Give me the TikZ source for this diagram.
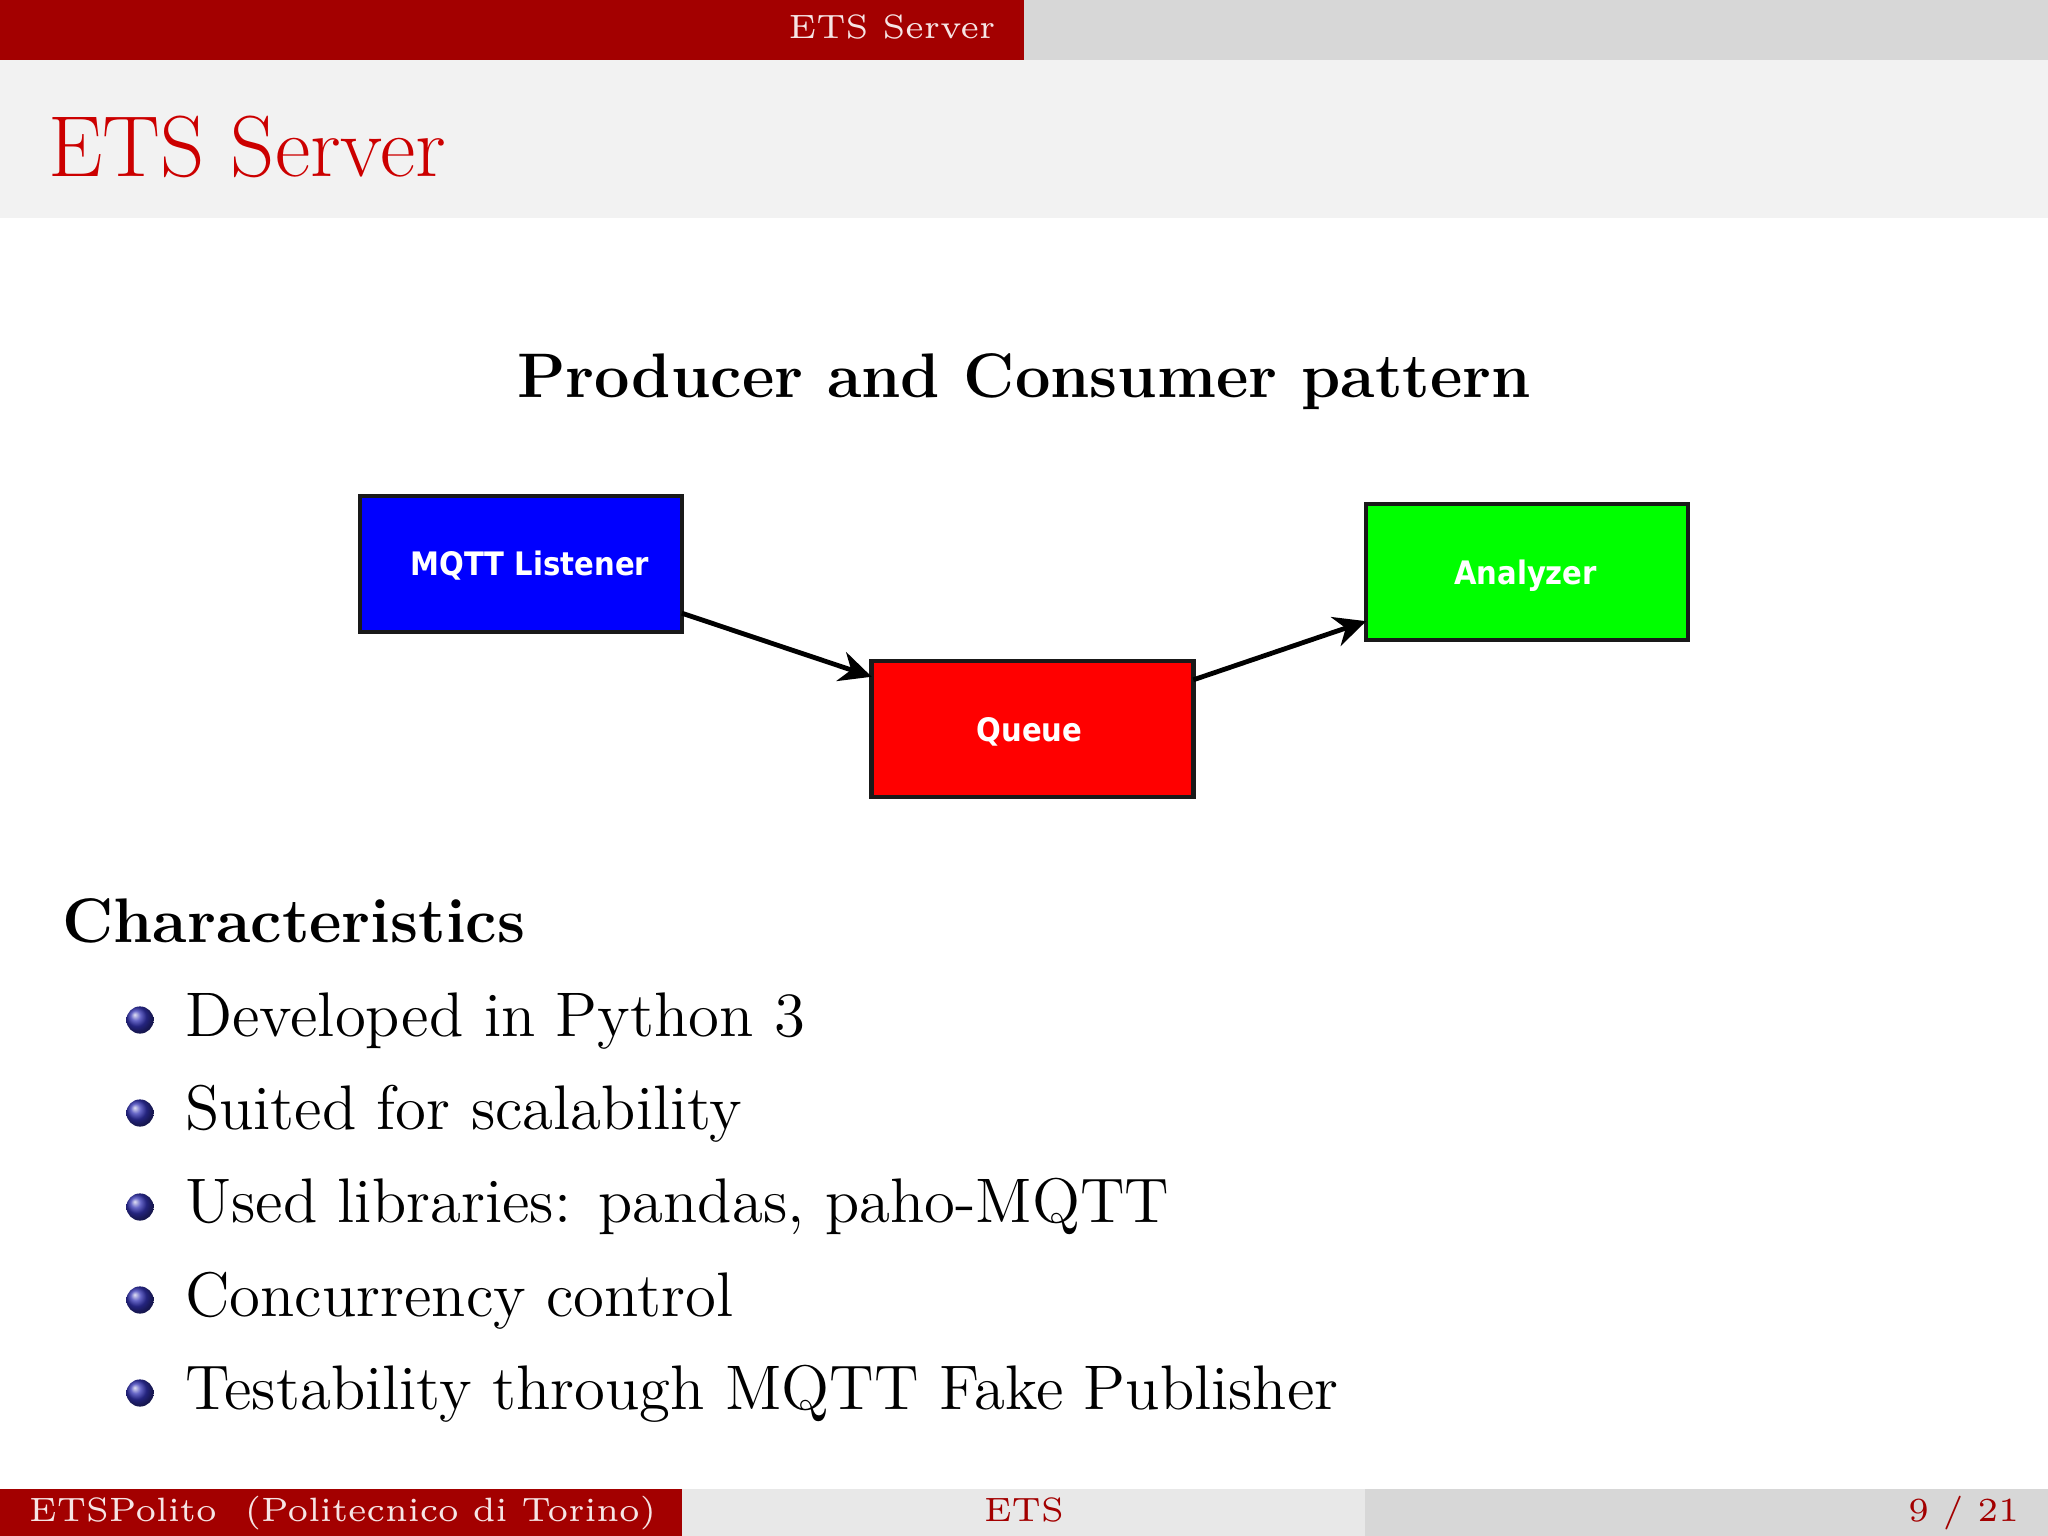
\documentclass[tikz,border=0pt]{standalone}
\usepackage{fontspec}
\newfontfamily\boxfont{DejaVu Sans}
\usetikzlibrary{arrows.meta}
\usetikzlibrary{shadings}
\definecolor{bardark}{RGB}{163,0,0}
\definecolor{titlered}{RGB}{204,0,0}
\definecolor{barmid}{RGB}{232,232,232}
\definecolor{barlight}{RGB}{215,215,215}
\definecolor{titlegray}{RGB}{242,242,242}
\definecolor{ballblue}{RGB}{51,51,179}
\tikzset{
  stagebox/.style={rectangle, draw=black!90, line width=0.28mm, inner sep=0pt, outer sep=0pt, minimum width=20.1mm, minimum height=8.5mm},
  stagelabel/.style={text=white, font=\boxfont\bfseries\fontsize{5.75}{6.5}\selectfont, inner sep=0pt, xscale=0.9},
  flow/.style={-{Stealth[length=2mm, width=1.9mm]}, line width=0.3mm},
  bullet/.style={circle, inner sep=0pt, minimum size=1.7mm, ball color=ballblue},
  itemtext/.style={anchor=base west, inner sep=0pt, font=\fontsize{11.2}{13}\selectfont},
  headtext/.style={inner sep=0pt, font=\bfseries\fontsize{11.2}{13}\selectfont},
  bartext/.style={anchor=base, inner sep=0pt, font=\fontsize{6}{7}\selectfont}
}
\begin{document}
\begin{tikzpicture}[x=0.0625mm, y=-0.0625mm]
      \useasboundingbox (0,0) rectangle (2048,1536);

      % bars
      \fill[barlight] (0,0) rectangle (2048,60);
      \fill[bardark] (0,0) rectangle (1024,60);
      \fill[titlegray] (0,60) rectangle (2048,218);
      \fill[barlight] (0,1489) rectangle (2048,1536);
      \fill[barmid] (682,1489) rectangle (1365,1536);
      \fill[bardark] (0,1489) rectangle (682,1536);

      \node[bartext, text=white!90!bardark] (headline) at (892,39) {ETS Server};
      \node[anchor=base west, inner sep=0pt, text=titlered, font=\fontsize{15.4}{18}\selectfont] (title) at (47,176) {ETS Server};
      \node[headtext, anchor=base] (pattern) at (1024,397) {Producer and Consumer pattern};

      \node[stagebox, fill=blue, label={[stagelabel, xshift=0.62mm, yshift=-0.1mm]center:MQTT Listener}] (listener) at (521,564) {};
      \node[stagebox, fill=red, label={[stagelabel, xshift=-0.2mm, yshift=-0.2mm]center:Queue}] (queue) at (1032.5,729) {};
      \node[stagebox, fill=green, label={[stagelabel, xshift=-0.1mm, yshift=-0.25mm]center:Analyzer}] (analyzer) at (1527,572) {};

      \draw[flow] (listener.-17.8) -- (queue.162.2);
      \draw[flow] (queue.17.8) -- (analyzer.197.8);

      \node[headtext, anchor=base west] (characteristics) at (61,942) {Characteristics};

      \node[bullet] (b1) at (140,1020) {};
      \node[bullet] (b2) at (140,1113) {};
      \node[bullet] (b3) at (140,1207) {};
      \node[bullet] (b4) at (140,1300) {};
      \node[bullet] (b5) at (140,1393) {};

      \node[itemtext] (i1) at (184,1036) {Developed in Python 3};
      \node[itemtext] (i2) at (184,1129) {Suited for scalability};
      \node[itemtext] (i3) at (184,1222) {Used libraries: pandas, paho-MQTT};
      \node[itemtext] (i4) at (184,1316) {Concurrency control};
      \node[itemtext] (i5) at (184,1409) {Testability through MQTT Fake Publisher};

      \node[bartext, anchor=base west, text=white!90!bardark] (institute) at (28,1521) {ETSPolito\ \ (Politecnico di Torino)};
      \node[bartext, text=bardark] (short) at (1024,1521) {ETS};
      \node[bartext, anchor=base east, text=bardark] (page) at (2020,1521) {9 / 21};
    \end{tikzpicture}
\end{document}
